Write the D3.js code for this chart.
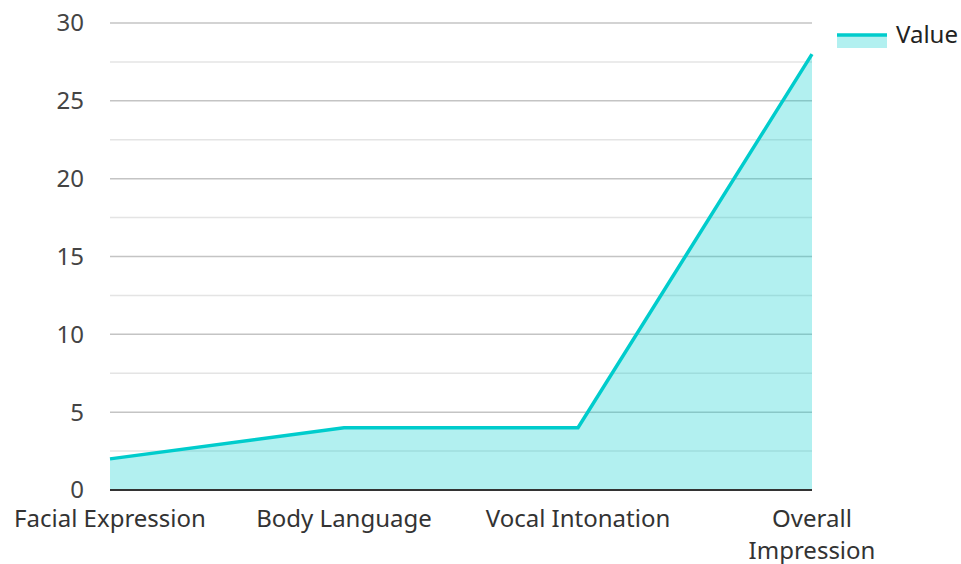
<!DOCTYPE html>
<html>
<head>
<meta charset="utf-8">
<script src="https://cdn.jsdelivr.net/npm/d3@7"></script>
<style>
  body { margin: 0; background: #fff; }
  text { font-family: "Noto Sans", "Open Sans", sans-serif; }
</style>
</head>
<body>
<div id="chart"></div>
<script>
const categories = ["Facial Expression", "Body Language", "Vocal Intonation", "Overall Impression"];
const values = [2, 4, 4, 28];
const majorTicks = [0, 5, 10, 15, 20, 25, 30];
const minorTicks = [2.5, 7.5, 12.5, 17.5, 22.5, 27.5];
const seriesName = "Value";

const W = 961, H = 564;
const MARGIN = { LEFT: 110, RIGHT: 149, TOP: 23, BOTTOM: 74 };
const LINE = "#00cccc";

const svg = d3.select("#chart").append("svg").attr("width", W).attr("height", H);

const x = d3.scalePoint().domain(categories).range([MARGIN.LEFT, W - MARGIN.RIGHT]);
const y = d3.scaleLinear().domain([0, 30]).range([H - MARGIN.BOTTOM, MARGIN.TOP]);

const g = svg.append("g");

// minor and major grid
g.selectAll(".minor").data(minorTicks).enter().append("line")
  .attr("x1", x.range()[0]).attr("x2", x.range()[1])
  .attr("y1", d => y(d)).attr("y2", d => y(d))
  .attr("stroke", "#e4e4e4").attr("stroke-width", 1.5);
g.selectAll(".major").data(majorTicks.filter(d => d > 0)).enter().append("line")
  .attr("x1", x.range()[0]).attr("x2", x.range()[1])
  .attr("y1", d => y(d)).attr("y2", d => y(d))
  .attr("stroke", "#c4c4c4").attr("stroke-width", 1.5);

const data = categories.map((c, i) => ({ c, v: values[i] }));

g.append("path").datum(data)
  .attr("fill", LINE).attr("fill-opacity", 0.3)
  .attr("d", d3.area().x(d => x(d.c)).y0(y(0)).y1(d => y(d.v)));

g.append("path").datum(data)
  .attr("fill", "none").attr("stroke", LINE).attr("stroke-width", 3.5)
  .attr("d", d3.line().x(d => x(d.c)).y(d => y(d.v)));

// baseline
g.append("line")
  .attr("x1", x.range()[0]).attr("x2", x.range()[1])
  .attr("y1", y(0)).attr("y2", y(0))
  .attr("stroke", "#333").attr("stroke-width", 2);

// y labels
g.selectAll(".ylab").data(majorTicks).enter().append("text")
  .attr("x", 84).attr("y", d => y(d)).attr("dy", "0.35em")
  .attr("text-anchor", "end").attr("font-size", 24).attr("fill", "#444")
  .text(d => d);

// x labels
const xl = g.selectAll(".xlab").data(categories).enter().append("text")
  .attr("x", d => x(d)).attr("y", 527)
  .attr("text-anchor", "middle").attr("font-size", 24).attr("fill", "#333");
xl.each(function (d) {
  const t = d3.select(this);
  const words = d === "Overall Impression" ? d.split(" ") : [d];
  words.forEach((w, i) => {
    t.append("tspan").attr("x", x(d)).attr("dy", i === 0 ? 0 : 32).text(w);
  });
});

// legend
const lg = svg.append("g").attr("transform", "translate(837,35)");
lg.append("rect").attr("x", 0).attr("y", 0).attr("width", 50).attr("height", 13)
  .attr("fill", LINE).attr("fill-opacity", 0.3);
lg.append("line").attr("x1", 0).attr("x2", 50).attr("y1", 0).attr("y2", 0)
  .attr("stroke", LINE).attr("stroke-width", 3.5);
lg.append("text").attr("x", 59).attr("y", 0).attr("dy", "0.35em")
  .attr("font-size", 24).attr("fill", "#222").text(seriesName);
</script>
</body>
</html>
